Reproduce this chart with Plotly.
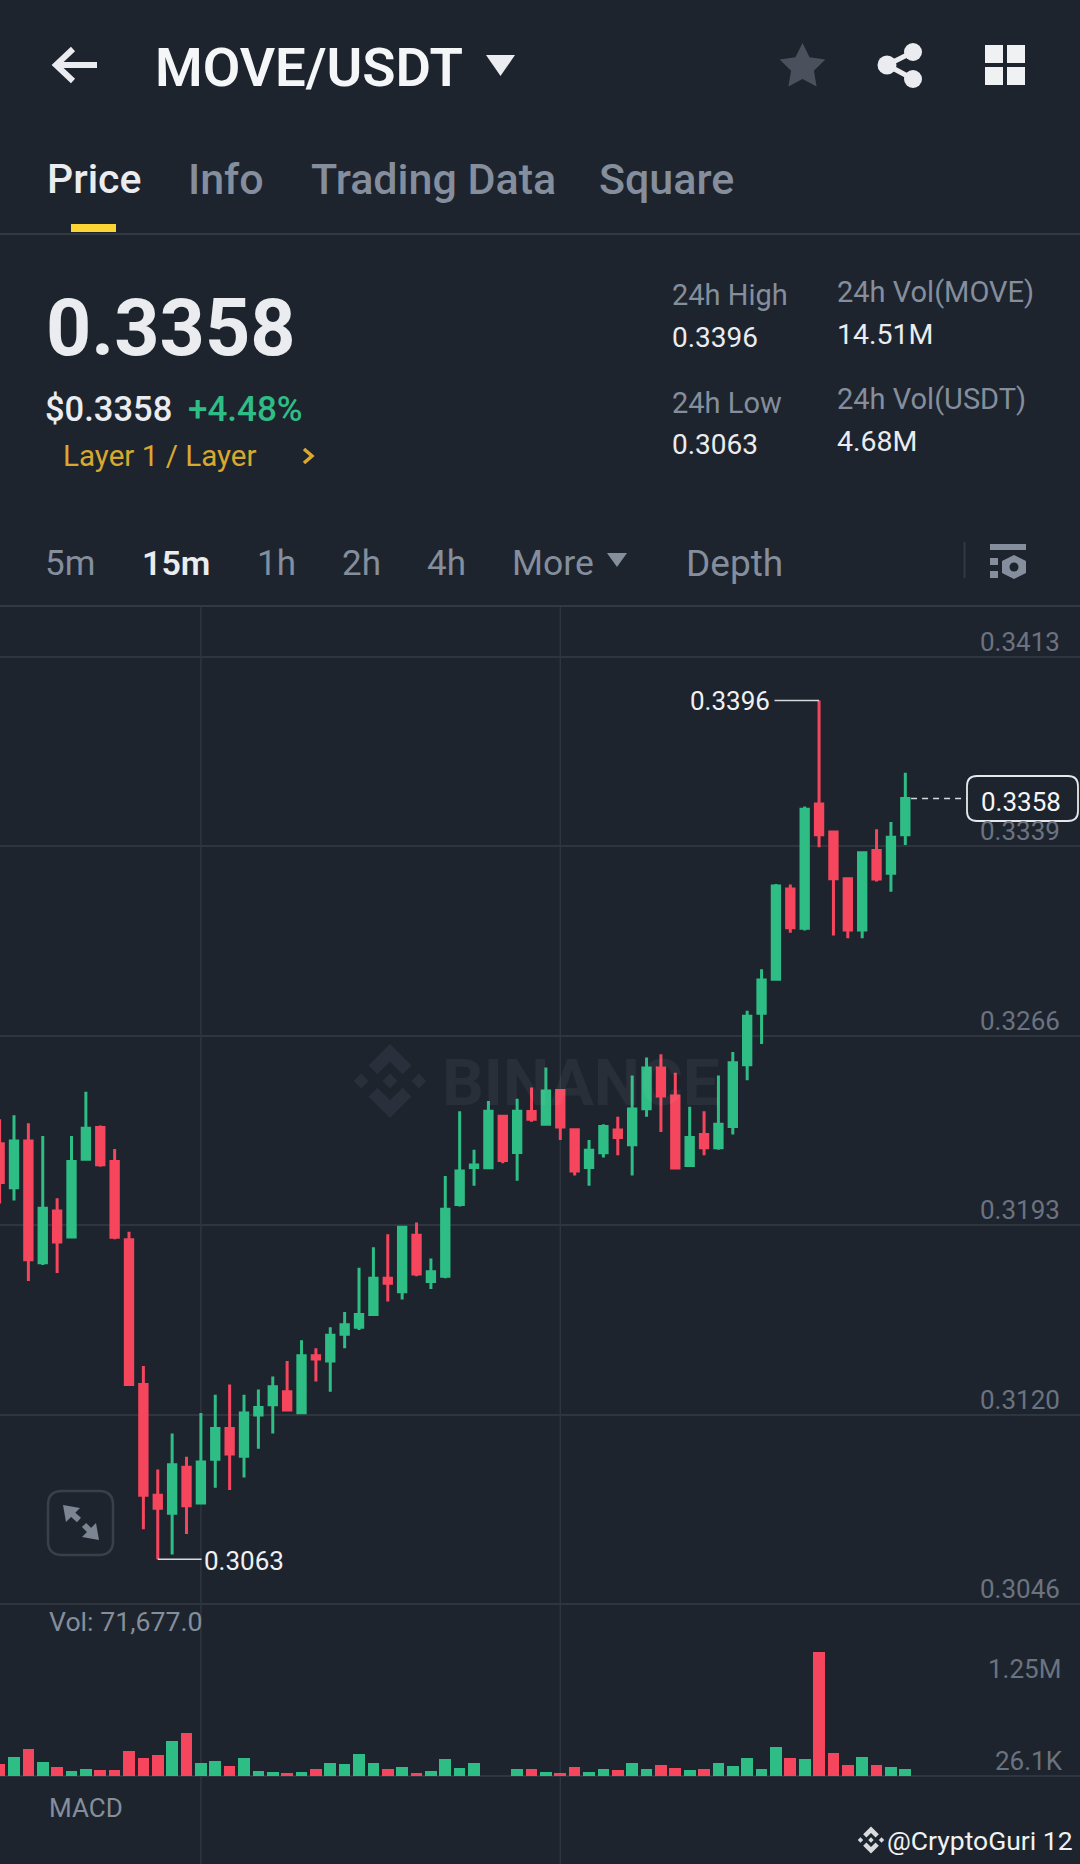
import math
import plotly.graph_objects as go

# ---------- data ----------
candle_idx = list(range(-1, 63))
opens = [.32241,.32071,.32252,.31780,.31980,.31880,.32181,.32304,.32172,.31869,.31308,.30878,.30808,.30987,.30848,.31018,.31137,.31029,.31189,.31229,.31279,.31198,.31419,.31399,.31502,.31530,.31579,.31720,.31667,.31886,.31707,.31727,.32006,.32149,.32148,.32348,.32207,.32366,.32317,.32448,.32296,.32149,.32206,.32295,.32237,.32377,.32535,.32426,.32157,.32277,.32226,.32308,.32548,.32747,.32879,.33229,.33077,.33559,.33450,.33269,.33070,.33379,.33290,.33440]
highs = [.32336,.32352,.32321,.32271,.32030,.32271,.32443,.32312,.32221,.31900,.31379,.30978,.31118,.31027,.31197,.31268,.31308,.31268,.31288,.31339,.31399,.31479,.31448,.31530,.31589,.31760,.31840,.31890,.31917,.31936,.31796,.32116,.32367,.32218,.32407,.32348,.32416,.32459,.32537,.32448,.32296,.32256,.32317,.32346,.32506,.32576,.32588,.32517,.32385,.32367,.32506,.32597,.32757,.32918,.33249,.33247,.33549,.33960,.33450,.33269,.33370,.33461,.33489,.33680]
lows = [.32010,.32021,.31709,.31771,.31740,.31880,.32181,.32152,.31871,.31308,.30746,.30630,.30648,.30728,.30848,.30907,.30898,.30947,.31058,.31118,.31209,.31198,.31319,.31279,.31448,.31519,.31579,.31629,.31637,.31727,.31678,.31720,.31998,.32078,.32148,.32166,.32098,.32327,.32317,.32256,.32118,.32078,.32188,.32197,.32118,.32346,.32287,.32147,.32157,.32197,.32218,.32277,.32488,.32628,.32879,.33060,.33068,.33391,.33049,.33038,.33038,.33258,.33219,.33400]
closes = [.32091,.32252,.31791,.31991,.31860,.32172,.32301,.32160,.31879,.31308,.30878,.30828,.30996,.30837,.31007,.31137,.31038,.31197,.31218,.31299,.31209,.31419,.31406,.31499,.31539,.31579,.31720,.31700,.31917,.31736,.31745,.31987,.32136,.32159,.32367,.32176,.32367,.32336,.32446,.32306,.32136,.32216,.32308,.32266,.32376,.32535,.32426,.32147,.32266,.32226,.32317,.32555,.32736,.32876,.33241,.33079,.33539,.33440,.33269,.33070,.33370,.33268,.33430,.33580]
volumes = [121000,194000,271000,144000,94000,57000,70000,67000,67000,255000,188000,218000,352000,432000,137000,157000,104000,181000,57000,44000,34000,44000,77000,131000,121000,228000,131000,74000,97000,37000,54000,171000,84000,137000,0,0,74000,74000,40000,37000,97000,47000,70000,60000,131000,70000,111000,80000,67000,70000,134000,101000,181000,77000,298000,181000,171000,1250000,238000,111000,191000,117000,94000,71677]
price_ticks = [.34129,.33395,.32660,.31926,.31191,.30456]
price_labels = ["0.3413","0.3339","0.3266","0.3193","0.3120","0.3046"]
time_grid = [13, 38]
low_idx, low_val, high_idx, high_val = 10, .30630, 56, .33960
last_price = 0.3358

# ---------- style ----------
BG = "#1E242E"; GRID = "#2F353F"; RULE = "#333943"
GREEN = "#2EBD85"; RED = "#F6465D"; WHITE = "#EAECEF"; GRAY = "#848E9C"; AXIS = "#6B7380"
FONT = "Roboto"
W, H = 1080, 1864
def fx(x): return x / W
def fy(y): return 1 - y / H

shapes, annos = [], []

def text(s, x, y, size, color=GRAY, weight=400, anchor="left"):
    annos.append(dict(text=s, x=fx(x), y=fy(y), xref="paper", yref="paper", xanchor=anchor, yanchor="middle",
                      showarrow=False, borderpad=0, font=dict(family=FONT, size=size, color=color, weight=weight)))

def poly(pts, fill=None, line=None, lw=0, close=True, layer="above"):
    d = "M " + " L ".join(f"{fx(a):.6f} {fy(b):.6f}" for a, b in pts) + (" Z" if close else "")
    shapes.append(dict(type="path", xref="paper", yref="paper", path=d, fillcolor=fill or "rgba(0,0,0,0)",
                       line=dict(color=line or "rgba(0,0,0,0)", width=lw), layer=layer))

def rect(x0, y0, x1, y1, fill, layer="above"):
    shapes.append(dict(type="rect", xref="paper", yref="paper", x0=fx(x0), x1=fx(x1), y0=fy(y0), y1=fy(y1),
                       fillcolor=fill, line=dict(width=0), layer=layer))

def circ(cx, cy, r, fill):
    shapes.append(dict(type="circle", xref="paper", yref="paper", x0=fx(cx - r), x1=fx(cx + r), y0=fy(cy - r), y1=fy(cy + r),
                       fillcolor=fill, line=dict(width=0)))

def rrect(x0, y0, x1, y1, r, fill, line, lw):
    P = lambda a, b: f"{fx(a):.6f} {fy(b):.6f}"
    d = (f"M {P(x0+r,y0)} L {P(x1-r,y0)} Q {P(x1,y0)} {P(x1,y0+r)} L {P(x1,y1-r)} Q {P(x1,y1)} {P(x1-r,y1)} "
         f"L {P(x0+r,y1)} Q {P(x0,y1)} {P(x0,y1-r)} L {P(x0,y0+r)} Q {P(x0,y0)} {P(x0+r,y0)} Z")
    shapes.append(dict(type="path", xref="paper", yref="paper", path=d, fillcolor=fill, line=dict(color=line, width=lw)))

def binance_logo(cx, cy, s, color, layer="above"):
    d = lambda x, y, r: poly([(cx+x, cy+y-r), (cx+x+r, cy+y), (cx+x, cy+y+r), (cx+x-r, cy+y)], fill=color, layer=layer)
    d(0, 0, .2*s); d(-.78*s, 0, .2*s); d(.78*s, 0, .2*s)
    for sg in (-1, 1):
        poly([(cx, cy+sg*s), (cx+.58*s, cy+sg*.42*s), (cx+.34*s, cy+sg*.18*s), (cx, cy+sg*.52*s),
              (cx-.34*s, cy+sg*.18*s), (cx-.58*s, cy+sg*.42*s)], fill=color, layer=layer)

# ---------- header ----------
poly([(57, 65), (97, 65)], line=WHITE, lw=6, close=False)
poly([(73, 49), (56, 65), (73, 81)], line=WHITE, lw=6, close=False)
text("MOVE/USDT", 154, 67, 54.5, "#F5F6F8", 600)
poly([(486, 55), (515, 55), (500.5, 76)], fill=WHITE)
star = []
for k in range(10):
    r = 24 if k % 2 == 0 else 12
    a = -math.pi / 2 + k * math.pi / 5
    star.append((802.5 + r * math.cos(a), 67 + r * math.sin(a)))
poly(star, fill="#4A515C")
poly([(913, 52), (887, 65), (913, 79)], line=WHITE, lw=5, close=False)
circ(913, 52, 9, WHITE); circ(887, 65, 9.5, WHITE); circ(913, 79, 9, WHITE)
for a, b in ((985, 45), (1007, 45), (985, 67), (1007, 67)):
    rect(a, b, a + 18, b + 18, "#F0F1F3")

text("Price", 46, 179, 41, WHITE, 500)
text("Info", 187, 179, 43, GRAY, 500)
text("Trading Data", 310, 179, 43, GRAY, 500)
text("Square", 598, 179, 43, GRAY, 500)
rect(71, 224, 116, 232, "#FCD535")
rect(0, 233, W, 235, RULE)

text("0.3358", 45, 328, 79, WHITE, 700)
text("$0.3358", 44, 409, 34.5, WHITE, 500)
text("+4.48%", 187, 409, 35, GREEN, 500)
text("Layer 1 / Layer", 62, 456, 29.6, "#D8A92E", 400)
poly([(304, 449), (312, 456), (304, 463)], line="#D8A92E", lw=3.5, close=False)

text("24h High", 671, 295, 29, GRAY); text("0.3396", 671, 337, 28, WHITE)
text("24h Low", 671, 403, 29, GRAY); text("0.3063", 671, 445, 28, WHITE)
text("24h Vol(MOVE)", 836, 292, 29, GRAY); text("14.51M", 836, 334, 28.5, WHITE)
text("24h Vol(USDT)", 836, 399, 29, GRAY); text("4.68M", 836, 442, 28.5, WHITE)

for s, x, c, w, sz in (("5m", 44, GRAY, 400, 35), ("15m", 141, WHITE, 600, 34), ("1h", 256, GRAY, 400, 35), ("2h", 341, GRAY, 400, 35),
                       ("4h", 426, GRAY, 400, 35), ("More", 511, GRAY, 400, 35.5), ("Depth", 685, GRAY, 400, 37)):
    text(s, x, 563, sz, c, w)
poly([(607, 553), (627, 553), (617, 567)], fill=GRAY)
rect(963.5, 542, 965.5, 578, RULE)
rect(990, 544, 1026, 550, GRAY)
rect(990, 558, 998, 565, GRAY); rect(990, 571, 998, 578, GRAY)
poly([(1014, 555), (1026, 561), (1026, 573), (1014, 579), (1002, 573), (1002, 561)], fill=GRAY)
circ(1014, 567, 4.5, BG)
rect(0, 605, W, 607, RULE)

# ---------- chart chrome ----------
binance_logo(390, 1081, 37, "#2A303B", layer="below")
text("BINANCE", 441, 1082, 65.5, "rgba(255,255,255,0.05)", 700)

for v in time_grid:
    shapes.append(dict(type="line", xref="x", yref="paper", x0=v, x1=v, y0=0, y1=fy(607),
                       line=dict(color=GRID, width=1.5), layer="below"))

rrect(48, 1491, 113, 1555, 14, "rgba(0,0,0,0)", "#3A404B", 2.5)
poly([(63, 1505), (80, 1508), (66, 1522)], fill="#7C8592")
poly([(70, 1512), (79, 1520)], line="#7C8592", lw=6, close=False)
poly([(99, 1540), (82, 1537), (96, 1523)], fill="#7C8592")
poly([(92, 1533), (84, 1525)], line="#7C8592", lw=6, close=False)

for lab, val in zip(price_labels, price_ticks):
    annos.append(dict(text=lab, x=fx(1062), xref="paper", y=val, yref="y", yshift=15, xanchor="right", yanchor="middle",
                      showarrow=False, font=dict(family=FONT, size=26, color=AXIS)))
text("1.25M", 1062, 1669, 26, AXIS, anchor="right")
text("26.1K", 1064, 1761, 26, AXIS, anchor="right")
text("Vol: 71,677.0", 48, 1622, 26.7, GRAY)
text("MACD", 48, 1808, 26, GRAY)

# extremes + last price
LINE = "#D5D8DC"
shapes.append(dict(type="line", xref="x", yref="y", x0=low_idx, x1=low_idx + 3.05, y0=low_val, y1=low_val, line=dict(color=LINE, width=1.5)))
annos.append(dict(text=f"{low_val:.4f}", x=low_idx + 3.05, xref="x", y=low_val, yref="y", yshift=-2, xanchor="left", yanchor="middle", showarrow=False,
                  font=dict(family=FONT, size=26, color="#F0F1F3")))
shapes.append(dict(type="line", xref="x", yref="y", x0=high_idx - 3.1, x1=high_idx, y0=high_val, y1=high_val, line=dict(color=LINE, width=1.5)))
annos.append(dict(text=f"{high_val:.4f}", x=high_idx - 3.25, xref="x", y=high_val, yref="y", xanchor="right", yanchor="middle", showarrow=False,
                  font=dict(family=FONT, size=26, color="#F0F1F3")))
shapes.append(dict(type="line", xref="x", yref="y", x0=62.4, x1=66.3, y0=last_price, y1=last_price,
                   line=dict(color=LINE, width=1.5, dash="6px,5px")))
rrect(967, 776, 1078, 821, 10, BG, "#E6E8EB", 1.8)
text("0.3358", 1062, 802, 26, "#F5F6F8", anchor="right")

text("@CryptoGuri 12", 886, 1840, 26.5, "#F0F1F3")
binance_logo(871, 1840, 13.5, "#D8DADD")

# ---------- traces ----------
vol_colors = [GREEN if c >= o else RED for o, c in zip(opens, closes)]
fig = go.Figure()
fig.add_trace(go.Candlestick(x=candle_idx, open=opens, high=highs, low=lows, close=closes,
                             increasing=dict(line=dict(color=GREEN, width=3), fillcolor=GREEN),
                             decreasing=dict(line=dict(color=RED, width=3), fillcolor=RED),
                             whiskerwidth=0, hoverinfo="skip", showlegend=False, xaxis="x", yaxis="y"))
fig.add_trace(go.Bar(x=candle_idx, y=volumes, width=0.81, marker=dict(color=vol_colors, line=dict(width=0)),
                     hoverinfo="skip", showlegend=False, xaxis="x", yaxis="y2"))

fig.update_layout(
    width=W, height=H, autosize=False, margin=dict(l=0, r=0, t=0, b=0, pad=0),
    paper_bgcolor=BG, plot_bgcolor=BG, showlegend=False, boxgap=0.27, bargap=0,
    xaxis=dict(domain=[0, 1], range=[-0.9738, 74.151], showgrid=False, zeroline=False, showticklabels=False,
               ticks="", showline=False, rangeslider=dict(visible=False), anchor="y"),
    yaxis=dict(domain=[fy(1610), fy(607)], range=[.30433, .34323], tickmode="array", tickvals=price_ticks,
               showticklabels=False, ticks="", showgrid=True, gridcolor=GRID, gridwidth=1.5, zeroline=False, showline=False),
    yaxis2=dict(domain=[fy(1776), fy(1651.7)], range=[0, 1250000], showgrid=False, showticklabels=False, ticks="",
                zeroline=True, zerolinecolor=GRID, zerolinewidth=1.5, showline=False, anchor="x"),
    shapes=shapes, annotations=annos,
)
fig.write_html("out.html", config=dict(displayModeBar=False),
               post_script="document.body.style.margin='0';document.body.style.background='%s';document.documentElement.style.overflow='hidden';" % BG)
